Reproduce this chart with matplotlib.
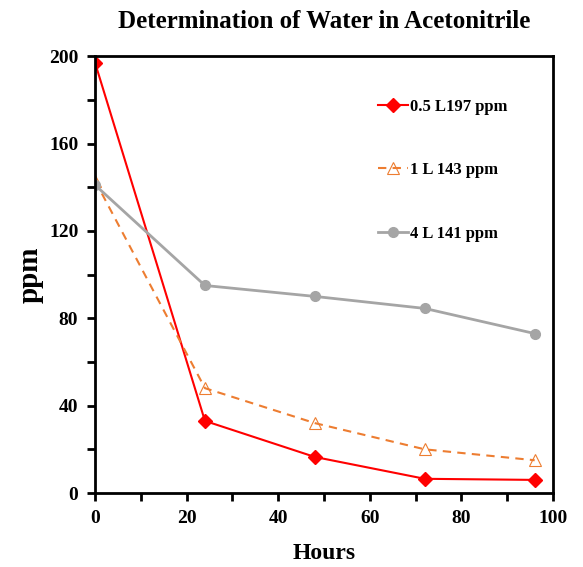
import matplotlib.pyplot as plt
from matplotlib.ticker import MultipleLocator

# データ
hours = [0, 24, 48, 72, 96]
ppm_05L = [197, 33, 16.5, 6.5, 6]
ppm_1L = [143, 48, 32, 20, 15]
ppm_4L = [141, 95, 90, 84.5, 73]
labels = ['0.5 L197 ppm', '1 L 143 ppm', '4 L 141 ppm']

plt.rcParams['font.family'] = ['Liberation Serif', 'DejaVu Serif']
plt.rcParams['font.weight'] = 'bold'

fig = plt.figure(figsize=(5.83, 5.67), dpi=100)
ax = fig.add_axes([0.163, 0.1305, 0.7855, 0.7705])

ax.plot(hours, ppm_05L, color='#FF0000', marker='D', markersize=7, lw=1.5, label=labels[0])
ax.plot(hours, ppm_1L, color='#ED7D31', marker='^', markersize=8, lw=1.5, ls=(0, (4, 3)),
        markerfacecolor='none', markeredgewidth=0.8, label=labels[1])
ax.plot(hours, ppm_4L, color='#A5A5A5', marker='o', markersize=7, lw=2, label=labels[2])

ax.set_xlim(0, 100)
ax.set_ylim(0, 200)
ax.xaxis.set_major_locator(MultipleLocator(20))
ax.xaxis.set_minor_locator(MultipleLocator(10))
ax.yaxis.set_major_locator(MultipleLocator(40))
ax.yaxis.set_minor_locator(MultipleLocator(20))
ax.tick_params(which='both', direction='out', width=2, labelsize=14)
ax.tick_params(which='major', length=6, pad=6)
ax.tick_params(which='minor', length=6)
for s in ax.spines.values():
    s.set_linewidth(2)

ax.set_xlabel('Hours', fontsize=17, fontweight='bold', labelpad=12)
ax.set_ylabel('ppm', fontsize=21, fontweight='bold', labelpad=4)
ax.set_title('Determination of Water in Acetonitrile', fontsize=18, fontweight='bold', pad=20)

ax.legend(loc='upper left', bbox_to_anchor=(0.585, 0.937), frameon=False, fontsize=12,
          labelspacing=2.85, handlelength=1.8, handletextpad=0.1)

fig.savefig('out.png', dpi=100)
